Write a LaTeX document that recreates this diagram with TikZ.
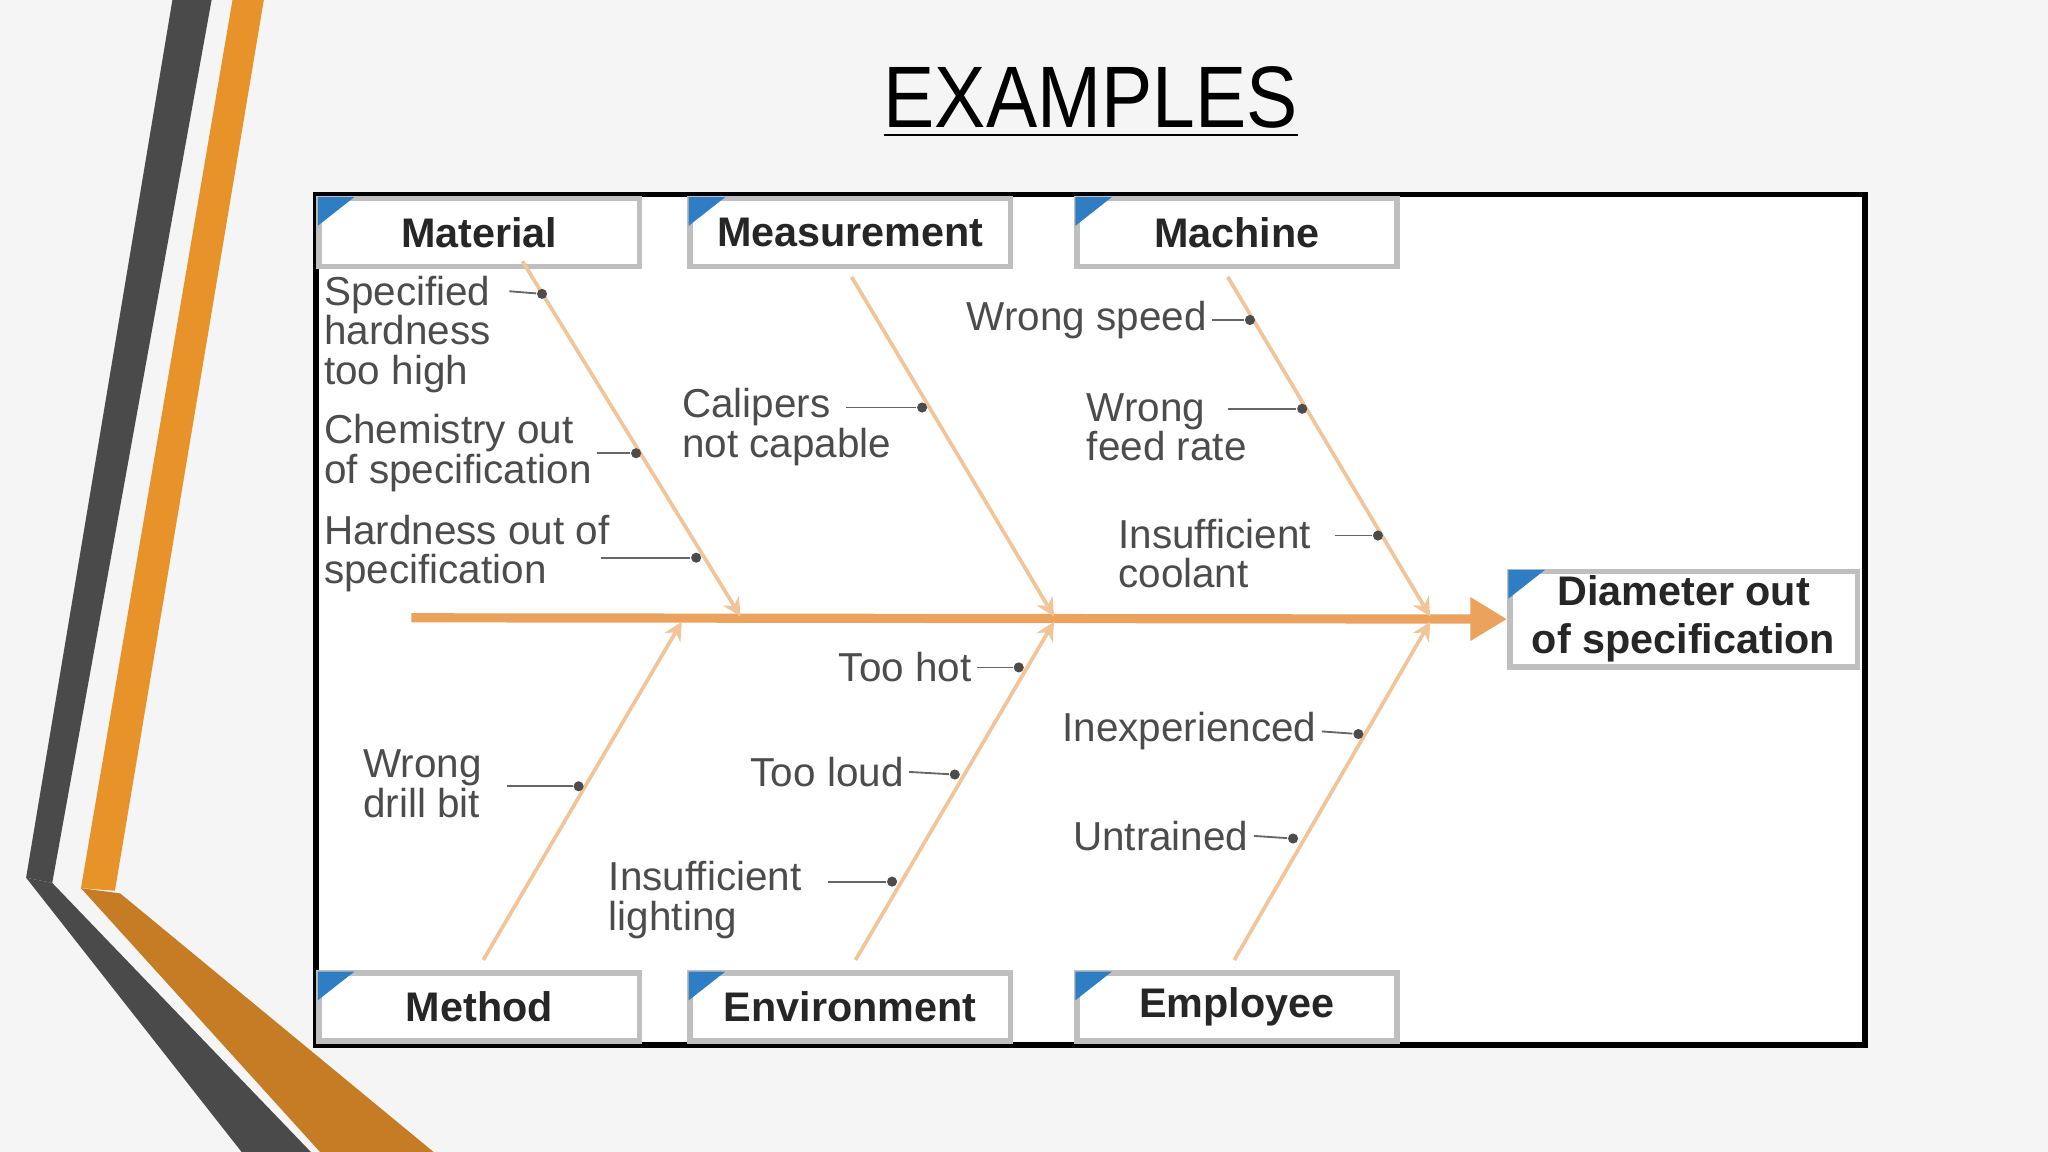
\documentclass[tikz,border=0pt]{standalone}
\usepackage{fontspec}
\setmainfont{Liberation Sans}
\usetikzlibrary{positioning,arrows.meta}
\definecolor{spinecol}{HTML}{EBA25C}
\definecolor{bonecol}{HTML}{F2C49A}
\definecolor{stripeor}{HTML}{E8922A}
\definecolor{stripegr}{HTML}{4A4A4A}
\definecolor{flagblue}{HTML}{2F7EC4}
\tikzset{
  catbox/.style={draw=black!25, line width=1.2pt, fill=white, minimum width=2.45cm, minimum height=0.52cm, font=\bfseries\fontsize{9}{9}\selectfont, text=black!85, inner sep=0pt},
  cause/.style={font=\fontsize{8.8}{8.6}\selectfont, text=black!70, align=left, inner sep=1pt},
  bone/.style={bonecol, line width=0.8pt, -{Stealth[length=4pt,width=4pt]}},
  tick/.style={black!60, line width=0.4pt},
  dotmark/.style={circle, fill=black!70, inner sep=0pt, minimum size=2.2pt}
}
\newcommand{\flag}[1]{\fill[flagblue] ([shift={(1,1)}]#1.north west) -- ++(28,0) -- ++(-28,22) -- cycle;}
\begin{document}
\begin{tikzpicture}[x=0.01cm,y=-0.01cm]
  \useasboundingbox (0,0) rectangle (1568,882);
  \fill[gray!8] (0,0) rectangle (1568,882);
  % left stripes
  \fill[stripegr] (132,0) -- (162,0) -- (40,676) -- (20,672) -- cycle;
  \fill[stripeor] (178,0) -- (202,0) -- (88,682) -- (62,680) -- cycle;
  \fill[stripegr] (20,672) -- (40,676) -- (238,882) -- (185,882) -- cycle;
  \fill[stripeor!85!black] (62,680) -- (92,684) -- (332,882) -- (245,882) -- cycle;
  % title
  \node (title) at (835,78) {\fontsize{19}{22}\selectfont\addfontfeature{FakeStretch=0.88}\underline{EXAMPLES}};
  % frame
  \draw[black, line width=1.2pt, fill=white] (242,149) rectangle (1428,800);
  % category boxes
  \node[catbox] (material)    at (367,178) {Material};
  \node[catbox] (measurement) at (651,178) {Measurement};
  \node[catbox] (machine)     at (947,178) {Machine};
  \node[catbox] (method)      at (367,771) {Method};
  \node[catbox] (environment) at (651,771) {Environment};
  \node[catbox] (employee)    at (947,771) {Employee};
  \node[catbox, minimum width=2.66cm, minimum height=0.73cm, align=center, font=\bfseries\fontsize{9}{10.5}\selectfont] (effect) at (1289,474) {Diameter out\\of specification};
  \foreach \n in {material,measurement,machine,method,environment,employee,effect} {\flag{\n}}
  % spine
  \coordinate (tail) at (315,473);
  \draw[spinecol, line width=2pt, -{Triangle[length=8pt,width=9pt]}] (tail) -- (effect.west);
  % bones
  \coordinate (matA) at (400,200);  \coordinate (matB) at (567,472);
  \coordinate (meaA) at (652,212);  \coordinate (meaB) at (807,472);
  \coordinate (macA) at (940,212);  \coordinate (macB) at (1095,472);
  \coordinate (metA) at (370,735);  \coordinate (metB) at (522,476);
  \coordinate (envA) at (655,735);  \coordinate (envB) at (807,476);
  \coordinate (empA) at (945,735);  \coordinate (empB) at (1095,476);
  \foreach \a/\b in {matA/matB,meaA/meaB,macA/macB,metA/metB,envA/envB,empA/empB} {\draw[bone] (\a) -- (\b);}
  % dots on bones
  \foreach \n/\x/\y in {d1/415/225, d2/487/347, d3/533/427, d4/706/312, d5/957/245, d6/997/313, d7/1055/410,
                        d8/443/602, d9/780/511, d10/731/593, d11/683/675, d12/1040/562, d13/990/642}
    {\node[dotmark] (\n) at (\x,\y) {};}
  % causes
  \node[cause, anchor=north west] (c1) at (244,207) {Specified\\hardness\\too high};
  \node[cause, anchor=west] (c2) at (244,347) {Chemistry out\\of specification};
  \node[cause, anchor=west] (c3) at (244,424) {Hardness out of\\specification};
  \node[cause, anchor=west] (c4) at (518,327) {Calipers\\not capable};
  \node[cause, anchor=east] (c5) at (928,245) {Wrong speed};
  \node[cause, anchor=west] (c6) at (828,327) {Wrong\\feed rate};
  \node[cause, anchor=west] (c7) at (852,424) {Insufficient\\coolant};
  \node[cause, anchor=west] (c8) at (274,600) {Wrong\\drill bit};
  \node[cause, anchor=east] (c9) at (748,511) {Too hot};
  \node[cause, anchor=east] (c10) at (696,591) {Too loud};
  \node[cause, anchor=west] (c11) at (462,689) {Insufficient\\lighting};
  \node[cause, anchor=east] (c12) at (1012,560) {Inexperienced};
  \node[cause, anchor=east] (c13) at (960,640) {Untrained};
  % ticks
  \draw[tick] (390,223) -- (d1);
  \draw[tick] (c2.east) -- (d2);
  \draw[tick] (460,427) -- (d3);
  \draw[tick] (648,312) -- (d4);
  \draw[tick] (c5.east) -- (d5);
  \draw[tick] (940,313) -- (d6);
  \draw[tick] (1022,410) -- (d7);
  \draw[tick] (388,602) -- (d8);
  \draw[tick] (c9.east) -- (d9);
  \draw[tick] (c10.east) -- (d10);
  \draw[tick] (634,675) -- (d11);
  \draw[tick] (c12.east) -- (d12);
  \draw[tick] (c13.east) -- (d13);
\end{tikzpicture}
\end{document}
